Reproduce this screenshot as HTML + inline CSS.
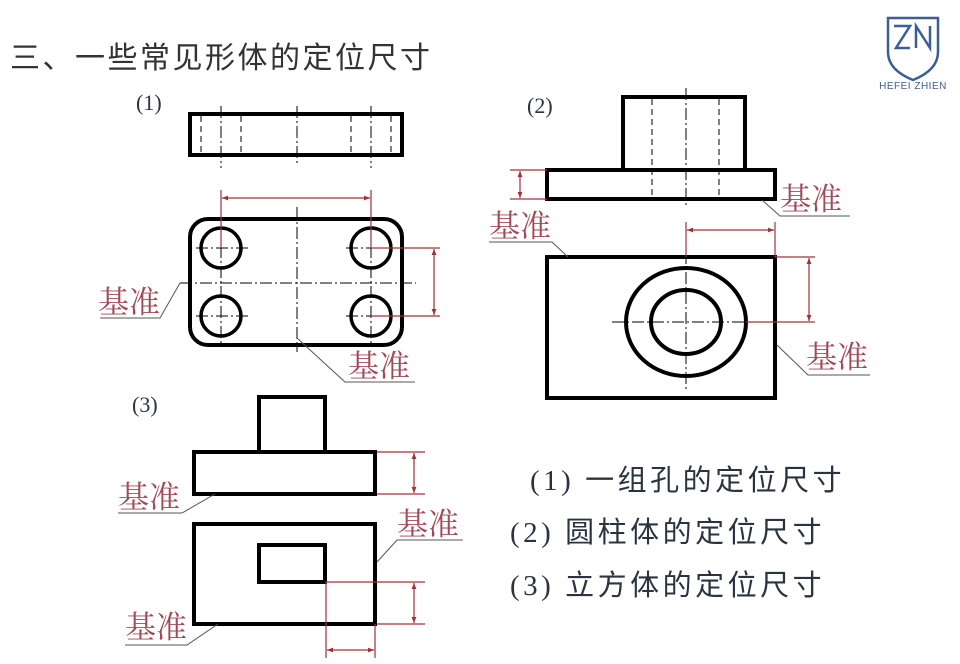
<!DOCTYPE html>
<html><head><meta charset="utf-8"><style>
body{margin:0;background:#fff;}
svg{display:block}
.o{fill:none;stroke:#000;stroke-width:4}
.c{stroke:#000;stroke-width:1;stroke-dasharray:12,3,2,3;fill:none}
.h{stroke:#000;stroke-width:1;stroke-dasharray:6,4;fill:none}
.r{stroke:#a0303a;stroke-width:1.2;fill:none}
.l{stroke:#555;stroke-width:1;fill:none}
.lb{font-family:"Liberation Serif","Noto Serif CJK SC",serif;font-size:31px;fill:#a04a58}
.t{font-family:"Liberation Serif","Noto Sans CJK SC",serif;fill:#2a3440}
</style></head><body>
<svg width="960" height="664" viewBox="0 0 960 664" xmlns="http://www.w3.org/2000/svg">
<defs><marker id="a" viewBox="0 0 10 10" refX="10" refY="5" markerWidth="12" markerHeight="6" orient="auto-start-reverse" markerUnits="userSpaceOnUse"><path d="M0,1L10,5L0,9z" fill="#a0303a"/></marker></defs>
<text x="10" y="68" class="t" style="font-family:'Liberation Sans','Noto Sans CJK SC',sans-serif;font-size:30px;fill:#333;letter-spacing:2.5px">三、一些常见形体的定位尺寸</text>
<!-- logo -->
<path d="M888,18 L938,18 L938,52 Q938,70 913,80 Q888,70 888,52 Z" fill="none" stroke="#3c5e96" stroke-width="2.5"/>
<path d="M894,26 L910,26 L896,48 L910,48 M916,48 L916,26 L930,48 L930,26" fill="none" stroke="#3c5e96" stroke-width="2.5"/>
<text x="913" y="89" text-anchor="middle" style="font-family:'Liberation Sans',sans-serif;font-size:10px;fill:#3c5e96;letter-spacing:0.5px">HEFEI ZHIEN</text>

<!-- (1) -->
<text x="136" y="110" class="t" font-size="22">(1)</text>
<rect x="190" y="114" width="212" height="41" class="o"/>
<g class="h"><line x1="201" y1="116" x2="201" y2="153"/><line x1="241" y1="116" x2="241" y2="153"/><line x1="351" y1="116" x2="351" y2="153"/><line x1="391" y1="116" x2="391" y2="153"/></g>
<g class="c"><line x1="221" y1="106" x2="221" y2="168"/><line x1="371" y1="106" x2="371" y2="168"/><line x1="297" y1="106" x2="297" y2="166"/></g>
<rect x="190" y="219" width="212" height="126" rx="18" class="o"/>
<g class="o" style="stroke-width:3.5"><circle cx="221" cy="248" r="20"/><circle cx="371" cy="248" r="20"/><circle cx="221" cy="316" r="20"/><circle cx="371" cy="316" r="20"/></g>
<g class="c">
<line x1="196" y1="248" x2="250" y2="248"/><line x1="346" y1="248" x2="400" y2="248"/>
<line x1="196" y1="316" x2="250" y2="316"/><line x1="346" y1="316" x2="400" y2="316"/>
<line x1="221" y1="226" x2="221" y2="344"/><line x1="371" y1="226" x2="371" y2="344"/>
<line x1="180" y1="283" x2="416" y2="283"/><line x1="297" y1="207" x2="297" y2="352"/>
</g>
<g class="r"><line x1="221" y1="190" x2="221" y2="248"/><line x1="371" y1="190" x2="371" y2="248"/>
<line x1="222" y1="198" x2="370" y2="198" marker-start="url(#a)" marker-end="url(#a)"/>
<line x1="371" y1="248" x2="440" y2="248"/><line x1="371" y1="316" x2="440" y2="316"/>
<line x1="434" y1="249" x2="434" y2="315" marker-start="url(#a)" marker-end="url(#a)"/></g>
<text x="98" y="313" class="lb">基准</text>
<path d="M100,318 L160,318 L180,283" class="l"/>
<text x="348" y="377" class="lb">基准</text>
<path d="M415,382 L345,382 L297,338" class="l"/>

<!-- (2) -->
<text x="527" y="113" class="t" font-size="22">(2)</text>
<rect x="623" y="97" width="122" height="73" class="o"/>
<rect x="547" y="170" width="228" height="29" class="o"/>
<g class="h"><line x1="652" y1="99" x2="652" y2="197"/><line x1="719" y1="99" x2="719" y2="197"/></g>
<line x1="686" y1="88" x2="686" y2="206" class="c"/>
<g class="r"><line x1="510" y1="170" x2="547" y2="170"/><line x1="510" y1="199" x2="547" y2="199"/>
<line x1="520" y1="171" x2="520" y2="198" marker-start="url(#a)" marker-end="url(#a)"/></g>
<text x="780" y="210" class="lb">基准</text>
<path d="M850,216 L780,216 L762,200" class="l"/>
<rect x="547" y="257" width="228" height="141" class="o"/>
<ellipse cx="686" cy="322" rx="60" ry="54" class="o"/>
<ellipse cx="686" cy="322" rx="35" ry="32" class="o"/>
<g class="c"><line x1="612" y1="322" x2="760" y2="322"/><line x1="686" y1="252" x2="686" y2="390"/></g>
<g class="r"><line x1="686" y1="222" x2="686" y2="257"/><line x1="775" y1="222" x2="775" y2="257"/>
<line x1="687" y1="230" x2="774" y2="230" marker-start="url(#a)" marker-end="url(#a)"/>
<line x1="775" y1="257" x2="815" y2="257"/><line x1="746" y1="322" x2="815" y2="322"/>
<line x1="809" y1="258" x2="809" y2="321" marker-start="url(#a)" marker-end="url(#a)"/></g>
<text x="489" y="237" class="lb">基准</text>
<path d="M489,242 L552,242 L568,257" class="l"/>
<text x="806" y="368" class="lb">基准</text>
<path d="M870,375 L808,375 L777,345" class="l"/>

<!-- (3) -->
<text x="132" y="412" class="t" font-size="22">(3)</text>
<rect x="259" y="397" width="66" height="55" class="o"/>
<rect x="194" y="452" width="181" height="42" class="o"/>
<g class="r"><line x1="377" y1="452" x2="425" y2="452"/><line x1="377" y1="494" x2="425" y2="494"/>
<line x1="414" y1="453" x2="414" y2="493" marker-start="url(#a)" marker-end="url(#a)"/></g>
<text x="118" y="508" class="lb">基准</text>
<path d="M118,513 L182,513 L215,494" class="l"/>
<rect x="194" y="524" width="181" height="100" class="o"/>
<rect x="259" y="545" width="66" height="37" class="o"/>
<g class="r"><line x1="326" y1="582" x2="425" y2="582"/><line x1="377" y1="624" x2="425" y2="624"/>
<line x1="414" y1="583" x2="414" y2="623" marker-start="url(#a)" marker-end="url(#a)"/>
<line x1="326" y1="582" x2="326" y2="658"/><line x1="375" y1="624" x2="375" y2="658"/>
<line x1="327" y1="650" x2="374" y2="650" marker-start="url(#a)" marker-end="url(#a)"/></g>
<text x="397" y="535" class="lb">基准</text>
<path d="M463,540 L397,540 L377,562" class="l"/>
<text x="125" y="638" class="lb">基准</text>
<path d="M125,645 L187,645 L218,624" class="l"/>

<g class="t" font-size="29" style="letter-spacing:3.5px">
<text x="530" y="490">(1) 一组孔的定位尺寸</text>
<text x="510" y="542">(2) 圆柱体的定位尺寸</text>
<text x="510" y="595">(3) 立方体的定位尺寸</text>
</g>
</svg>
</body></html>
